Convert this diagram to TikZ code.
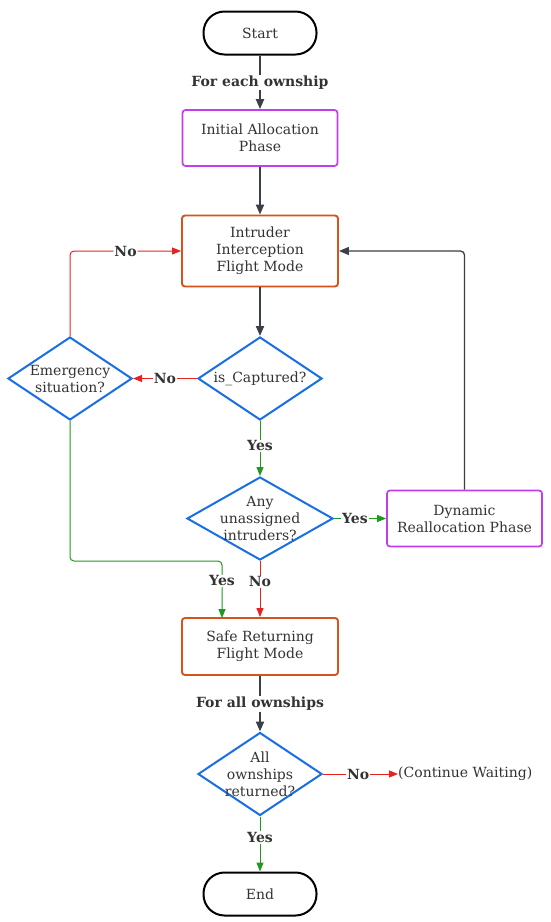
\documentclass[tikz,border=0pt]{standalone}
\usepackage{fontspec}
\setmainfont{DejaVu Serif}
\usetikzlibrary{shapes.geometric,arrows.meta,calc}
\definecolor{dk}{HTML}{3A3F48}
\definecolor{txt}{HTML}{333333}
\definecolor{bl}{HTML}{1A6FE3}
\definecolor{orng}{HTML}{D4541C}
\definecolor{purp}{HTML}{C23CF0}
\definecolor{rd}{HTML}{E82222}
\definecolor{gr}{HTML}{1E9A1E}
\begin{document}
\begin{tikzpicture}[x=1pt,y=-1pt,
  every node/.style={font=\fontsize{14}{17}\selectfont, text=txt, align=center},
  term/.style={draw=black, line width=2pt, rectangle, rounded corners=21pt, minimum width=113pt, minimum height=43pt},
  procbox/.style={draw=purp, line width=1.7pt, rectangle, rounded corners=3pt, minimum width=155pt, minimum height=56pt, inner sep=2pt},
  modebox/.style={draw=orng, line width=1.9pt, rectangle, rounded corners=3pt, minimum width=156pt, inner sep=2pt},
  decide/.style={draw=bl, line width=2pt, diamond, minimum width=124pt, minimum height=83pt, inner sep=0pt},
  dtext/.style={inner sep=0pt},
  lbl/.style={font=\bfseries\fontsize{14}{17}\selectfont, fill=white, inner sep=1pt, text=txt},
  dkline/.style={draw=dk, line width=2pt, -{Triangle[length=10pt,width=8pt]}},
  rdline/.style={draw=rd, line width=1pt, -{Triangle[length=9pt,width=7pt]}},
  grline/.style={draw=gr, line width=1pt, -{Triangle[length=9pt,width=7pt]}},
]
\useasboundingbox (0,0) rectangle (550,922);
\fill[white] (0,0) rectangle (550,922);

\node[term] (start) at (260,33) {Start};
\node[procbox] (init) at (260,138) {Initial Allocation\\Phase};
\node[modebox, minimum height=71pt] (intr) at (260,251) {Intruder\\Interception\\Flight Mode};
\node[decide] (cap) at (260,378.5) {};
\node[dtext] at (cap) {is\_Captured?};
\node[decide] (emer) at (70,378.5) {};
\node[dtext] at (emer) {Emergency\\situation?};
\node[decide, minimum width=146pt] (any) at (260,518.5) {};
\node[dtext] at (any) {Any\\unassigned\\intruders?};
\node[procbox] (dyn) at (464.5,518.5) {Dynamic\\Reallocation Phase};
\node[modebox, minimum height=57pt] (safe) at (260,646.5) {Safe Returning\\Flight Mode};
\node[decide] (all) at (260,774) {};
\node[dtext] at (all) {All\\ownships\\returned?};
\node[anchor=west, inner sep=0pt] (cw) at (398,774) {(Continue Waiting)};
\node[term] (end) at (260,894) {End};

\coordinate (ej) at (222,561);
\coordinate (et) at (222,618);

\draw[dkline] (start) -- node[lbl]{For each ownship} (init);
\draw[dkline] (init) -- (intr);
\draw[dkline] (intr) -- (cap);
\draw[rdline] (cap.west) -- node[lbl]{No} (emer.east);
\draw[rdline, rounded corners=4pt] (emer.north) |- node[lbl, pos=0.75]{No} (intr.west);
\draw[grline, rounded corners=4pt] (emer.south) |- (ej) -- node[lbl, pos=0.35]{Yes} (et);
\draw[grline] (cap.south) -- node[lbl, pos=0.45]{Yes} (any.north);
\draw[grline] (any.east) -- node[lbl, pos=0.4]{Yes} (dyn.west);
\draw[dkline, line width=1.3pt, rounded corners=4pt] (dyn.north) |- (intr.east);
\draw[rdline] (any.south) -- node[lbl, pos=0.37]{No} (safe.north);
\draw[dkline] (safe) -- node[lbl]{For all ownships} (all);
\draw[rdline] (all.east) -- node[lbl, pos=0.47]{No} (cw.west);
\draw[grline] (all.south) -- node[lbl, pos=0.38]{Yes} (end.north);
\end{tikzpicture}
\end{document}
